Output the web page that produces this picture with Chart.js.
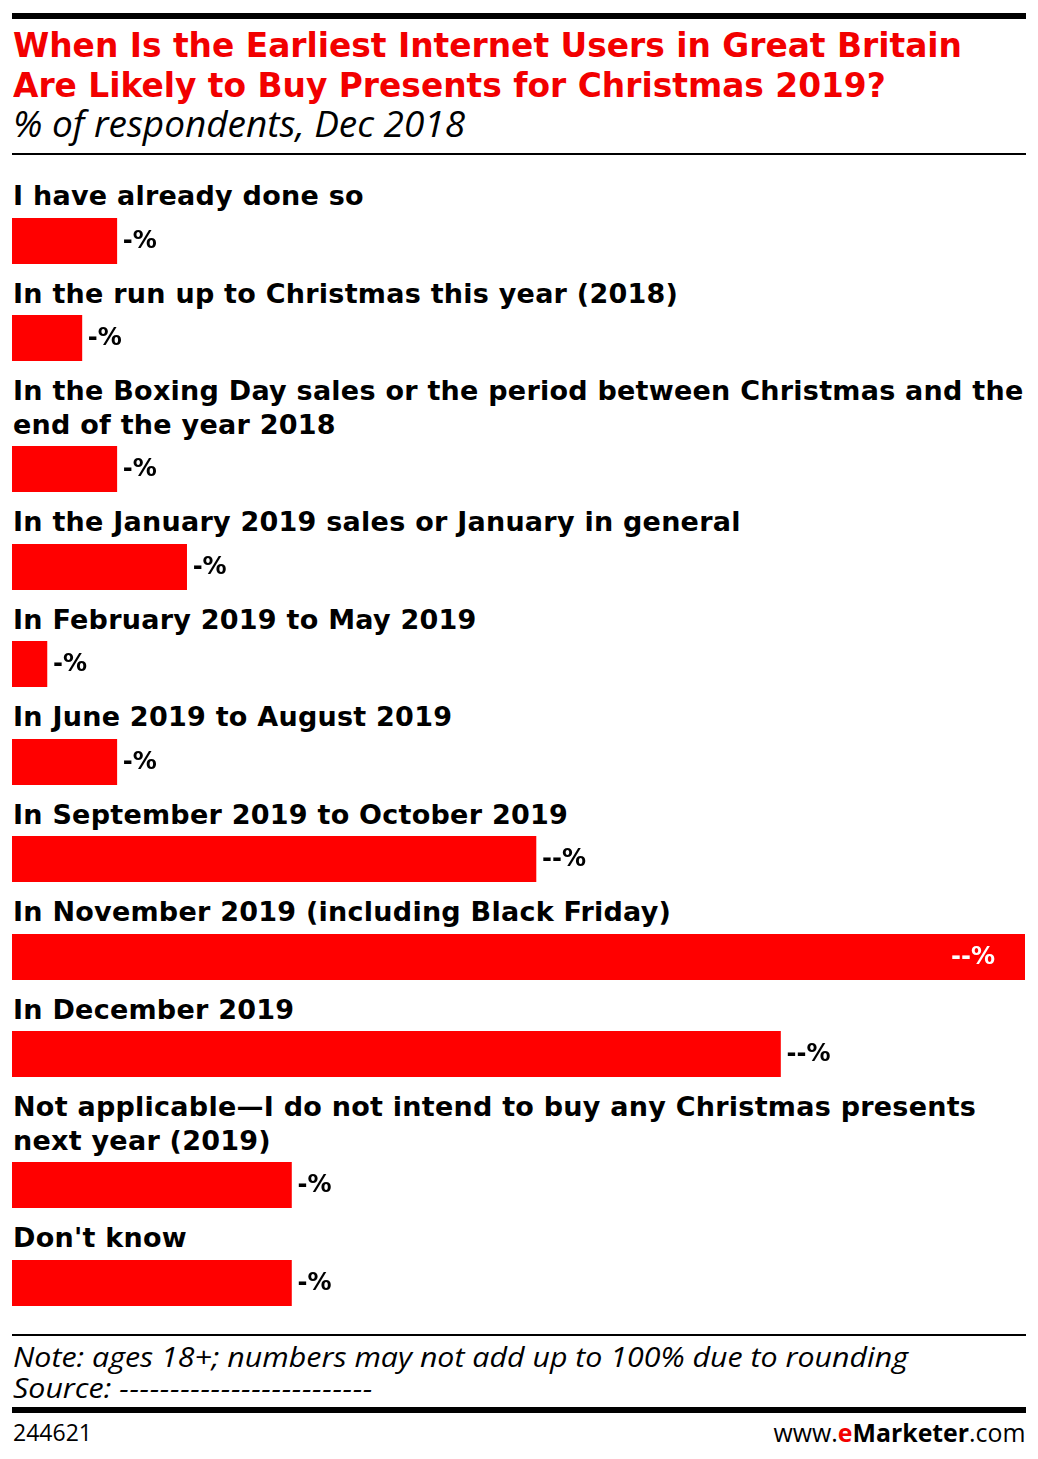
<!DOCTYPE html>
<html>
<head>
<meta charset="utf-8">
<script src="https://cdn.jsdelivr.net/npm/chart.js@4.4.1/dist/chart.umd.min.js"></script>
<style>
  html, body { margin:0; padding:0; background:#fff; }
  body { width:1038px; height:1459px; position:relative; overflow:hidden; }
  .abs { position:absolute; white-space:nowrap; }
  .rule { position:absolute; left:12px; width:1014px; background:#000; }
  #title { left:13px; top:26px; color:#f20000; font-family:"DejaVu Sans",sans-serif; font-weight:bold; font-size:34px; line-height:39.5px; transform-origin:0 0; }
  #subtitle { left:13px; top:104px; color:#000; font-family:"Open Sans",sans-serif; font-style:italic; font-weight:400; font-size:36px; line-height:40px; transform-origin:0 0; }
  #rows { position:absolute; left:12px; top:166px; width:1013px; }
  .lbl { font-family:"DejaVu Sans",sans-serif; font-weight:bold; font-size:27px; letter-spacing:0.25px; line-height:33.5px; padding-top:13px; padding-bottom:5px; color:#000; white-space:nowrap; padding-left:1px; }
  .bar { position:relative; width:1013px; height:46px; }
  #note { left:13px; top:1341px; font-family:"Open Sans",sans-serif; font-style:italic; font-weight:400; font-size:28px; line-height:31px; color:#000; transform-origin:0 0; }
  #dashes { letter-spacing:0.6px; }
  #foot-id { left:13px; top:1420px; font-family:"Open Sans",sans-serif; font-size:23px; line-height:24px; color:#000; transform-origin:0 0; }
  #foot-brand { right:13px; top:1420px; font-family:"Open Sans",sans-serif; font-size:25px; line-height:24px; color:#000; transform-origin:100% 0; }
</style>
</head>
<body>
<div class="rule" style="top:13px;height:6px"></div>
<div id="title" class="abs"><span id="t1">When Is the Earliest Internet Users in Great Britain</span><br><span>Are Likely to Buy Presents for Christmas 2019?</span></div>
<div id="subtitle" class="abs"><span id="st">% of respondents, Dec 2018</span></div>
<div class="rule" style="top:153px;height:2px"></div>
<div id="rows"></div>
<div class="rule" style="top:1334px;height:2px"></div>
<div id="note" class="abs"><span id="n1">Note: ages 18+; numbers may not add up to 100% due to rounding</span><br><span>Source: <span id="dashes">-------------------------</span></span></div>
<div class="rule" style="top:1407px;height:6px"></div>
<div id="foot-id" class="abs"><span id="fi">244621</span></div>
<div id="foot-brand" class="abs"><span id="fb">www.<span style="color:#f20000;font-weight:bold">e</span><span style="font-weight:bold">Marketer</span>.com</span></div>
<script>
const categories = [
  ["I have already done so"],
  ["In the run up to Christmas this year (2018)"],
  ["In the Boxing Day sales or the period between Christmas and the", "end of the year 2018"],
  ["In the January 2019 sales or January in general"],
  ["In February 2019 to May 2019"],
  ["In June 2019 to August 2019"],
  ["In September 2019 to October 2019"],
  ["In November 2019 (including Black Friday)"],
  ["In December 2019"],
  ["Not applicable\u2014I do not intend to buy any Christmas presents", "next year (2019)"],
  ["Don't know"]
];
const values = [3, 2, 3, 5, 1, 3, 15, 29, 22, 8, 8];
const valueLabels = ["-%", "-%", "-%", "-%", "-%", "-%", "--%", "--%", "--%", "-%", "-%"];

function condense(boxId, spanId, target) {
  const w = document.getElementById(spanId).getBoundingClientRect().width;
  document.getElementById(boxId).style.transform = 'scaleX(' + (target / w) + ')';
}
condense('title', 't1', 949);
condense('subtitle', 'st', 452);
condense('note', 'n1', 895);
condense('foot-id', 'fi', 79);
condense('foot-brand', 'fb', 252);

const maxVal = Math.max(...values);
const valueLabelPlugin = {
  id: 'valueLabel',
  afterDatasetsDraw(chart) {
    const ctx = chart.ctx;
    const meta = chart.getDatasetMeta(0);
    const idx = chart.options.plugins.valueLabel.index;
    meta.data.forEach((bar) => {
      ctx.save();
      ctx.font = 'bold 24px "DejaVu Sans", sans-serif';
      ctx.textBaseline = 'middle';
      if (values[idx] === maxVal) {
        ctx.fillStyle = '#ffffff';
        ctx.textAlign = 'right';
        ctx.fillText(valueLabels[idx], bar.x - 30, bar.y + 1);
      } else {
        ctx.fillStyle = '#000000';
        ctx.textAlign = 'left';
        ctx.fillText(valueLabels[idx], bar.x + 6, bar.y + 1);
      }
      ctx.restore();
    });
  }
};

const rows = document.getElementById('rows');
categories.forEach((cat, i) => {
  const lbl = document.createElement('div');
  lbl.className = 'lbl';
  lbl.innerHTML = cat.map(s => s.replace(/&/g,'&amp;').replace(/</g,'&lt;')).join('<br>');
  rows.appendChild(lbl);
  const wrap = document.createElement('div');
  wrap.className = 'bar';
  const cv = document.createElement('canvas');
  wrap.appendChild(cv);
  rows.appendChild(wrap);
  new Chart(cv, {
    type: 'bar',
    data: {
      labels: [cat.join(' ')],
      datasets: [{ data: [values[i]], backgroundColor: '#ff0000', borderWidth: 0, barPercentage: 1, categoryPercentage: 1 }]
    },
    options: {
      indexAxis: 'y',
      responsive: true,
      maintainAspectRatio: false,
      animation: false,
      devicePixelRatio: 1,
      layout: { padding: 0 },
      scales: {
        x: { display: false, min: 0, max: maxVal },
        y: { display: false }
      },
      plugins: { legend: { display: false }, tooltip: { enabled: false }, valueLabel: { index: i } }
    },
    plugins: [valueLabelPlugin]
  });
});
</script>
</body>
</html>
